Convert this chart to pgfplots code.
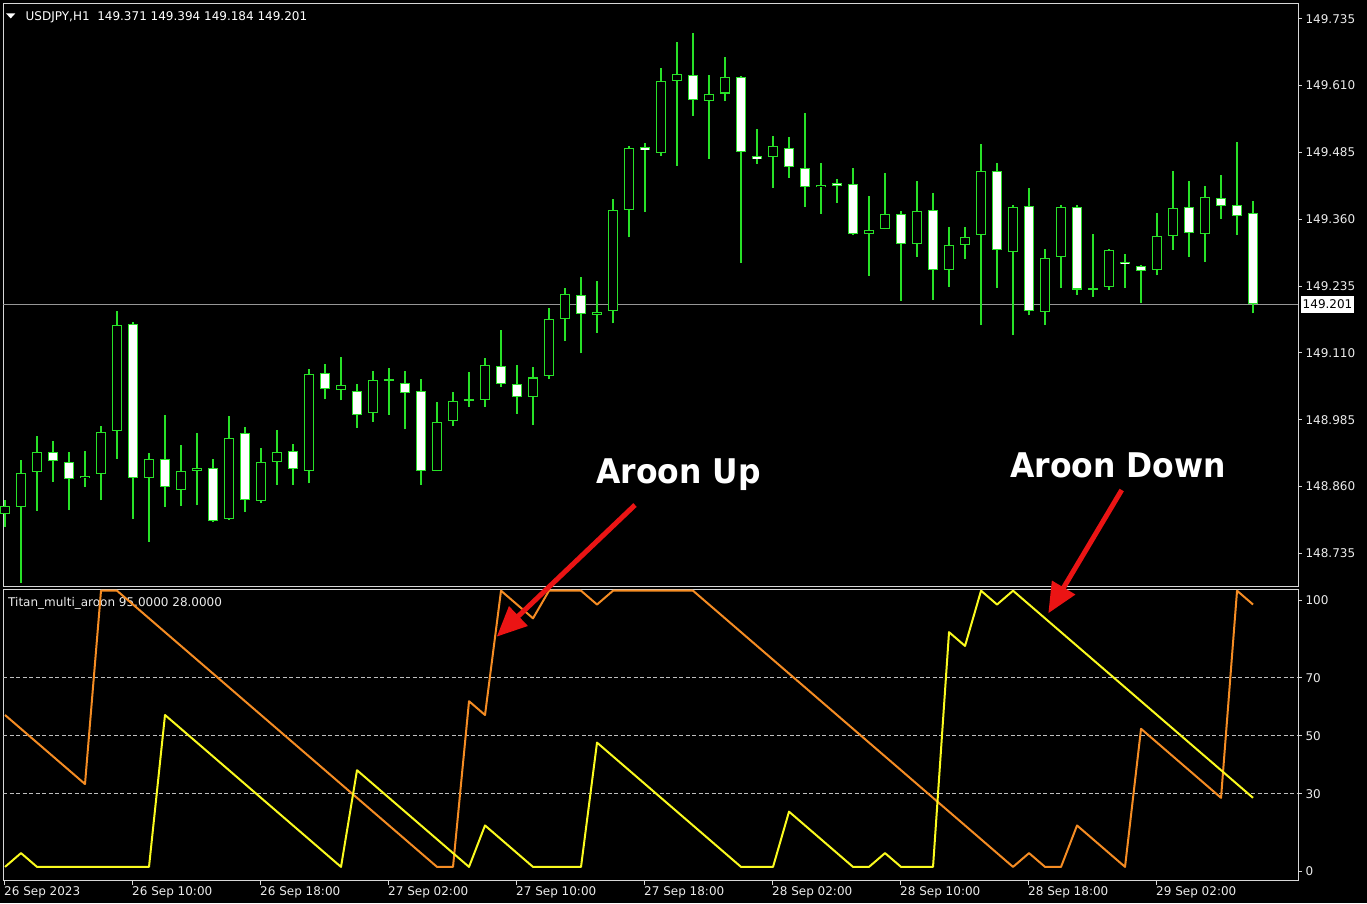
\documentclass[border=0pt]{standalone}
\usepackage{pgfplots}
\pgfplotsset{compat=1.18}
\usepackage{pgfplotstable}
\usepackage{fontspec}
\setmainfont{DejaVu Sans}
\newfontfamily\calloutfont{DejaVu Sans}[FakeStretch=0.925]
\usetikzlibrary{arrows.meta}

\definecolor{candle}{RGB}{40,225,40}
\definecolor{aroonup}{RGB}{245,140,35}
\definecolor{aroondown}{RGB}{250,250,30}
\definecolor{panelframe}{RGB}{215,215,215}
\definecolor{levelline}{RGB}{190,190,190}
\definecolor{bidline}{RGB}{150,150,150}
\definecolor{ticktext}{RGB}{235,235,235}
\definecolor{callout}{RGB}{235,20,20}

% USDJPY H1 bars: index, open, high, low, close
\pgfplotstableread{
k  O        H        L        C
0  148.810  148.835  148.785  148.824
1  148.824  148.910  148.680  148.887
2  148.888  148.955  148.815  148.926
5  148.877  148.927  148.860  148.882
6  148.885  148.973  148.834  148.963
7  148.965  149.189  148.912  149.164
9  148.877  148.922  148.757  148.912
11 148.855  148.938  148.824  148.890
12 148.890  148.960  148.825  148.897
14 148.799  148.992  148.798  148.952
16 148.834  148.933  148.830  148.907
17 148.907  148.966  148.863  148.926
19 148.892  149.079  148.866  149.072
21 149.040  149.102  149.021  149.050
23 148.997  149.077  148.981  149.059
24 149.057  149.081  148.994  149.060
27 148.890  149.019  148.889  148.982
28 148.984  149.036  148.974  149.021
29 149.021  149.074  149.009  149.024
30 149.023  149.100  149.009  149.088
33 149.029  149.084  148.975  149.065
34 149.067  149.193  149.061  149.173
35 149.173  149.231  149.132  149.220
37 149.182  149.244  149.148  149.188
38 149.189  149.397  149.165  149.378
39 149.378  149.496  149.326  149.495
41 149.484  149.642  149.478  149.620
42 149.619  149.691  149.460  149.631
44 149.583  149.630  149.473  149.596
45 149.595  149.664  149.581  149.625
48 149.476  149.516  149.419  149.496
51 149.420  149.465  149.370  149.425
54 149.333  149.403  149.254  149.341
55 149.342  149.447  149.341  149.371
57 149.316  149.431  149.290  149.377
59 149.266  149.346  149.234  149.313
60 149.313  149.345  149.285  149.328
61 149.330  149.501  149.162  149.451
63 149.300  149.386  149.143  149.384
65 149.188  149.305  149.163  149.289
66 149.289  149.386  149.232  149.384
68 149.229  149.332  149.215  149.232
69 149.234  149.304  149.227  149.302
72 149.266  149.372  149.255  149.330
73 149.330  149.451  149.302  149.382
75 149.333  149.423  149.280  149.401
}\bullbars

\pgfplotstableread{
k  O        H        L        C
3  148.926  148.945  148.869  148.909
4  148.908  148.924  148.816  148.875
8  149.164  149.168  148.800  148.877
10 148.912  148.994  148.822  148.859
13 148.896  148.912  148.794  148.796
15 148.961  148.972  148.813  148.836
18 148.927  148.940  148.863  148.894
20 149.072  149.090  149.023  149.043
22 149.039  149.052  148.970  148.993
25 149.055  149.077  148.967  149.036
26 149.038  149.062  148.863  148.890
31 149.087  149.153  149.046  149.053
32 149.053  149.087  148.996  149.029
36 149.218  149.251  149.109  149.183
40 149.496  149.503  149.374  149.489
43 149.631  149.709  149.553  149.584
46 149.627  149.628  149.279  149.487
47 149.479  149.529  149.464  149.473
49 149.494  149.513  149.437  149.458
50 149.457  149.559  149.383  149.421
52 149.428  149.436  149.390  149.423
53 149.425  149.455  149.330  149.333
56 149.370  149.375  149.207  149.315
58 149.378  149.409  149.209  149.266
62 149.451  149.466  149.232  149.302
64 149.384  149.418  149.180  149.188
67 149.384  149.386  149.219  149.229
70 149.281  149.294  149.232  149.276
71 149.272  149.274  149.203  149.264
74 149.382  149.431  149.289  149.334
76 149.401  149.443  149.360  149.386
77 149.386  149.504  149.330  149.366
78 149.371  149.394  149.184  149.201
}\bearbars

% Aroon up / down per bar
\pgfplotstableread{
k  up      down
0  57.14   4.76
1  52.38   9.52
2  47.62   4.76
3  42.86   4.76
4  38.10   4.76
5  33.33   4.76
6  100     4.76
7  100     4.76
8  95.24   4.76
9  90.48   4.76
10 85.71   57.14
11 80.95   52.38
12 76.19   47.62
13 71.43   42.86
14 66.67   38.10
15 61.90   33.33
16 57.14   28.57
17 52.38   23.81
18 47.62   19.05
19 42.86   14.29
20 38.10   9.52
21 33.33   4.76
22 28.57   38.10
23 23.81   33.33
24 19.05   28.57
25 14.29   23.81
26 9.52    19.05
27 4.76    14.29
28 4.76    9.52
29 61.90   4.76
30 57.14   19.05
31 100     14.29
32 95.24   9.52
33 90.48   4.76
34 100     4.76
35 100     4.76
36 100     4.76
37 95.24   47.62
38 100     42.86
39 100     38.10
40 100     33.33
41 100     28.57
42 100     23.81
43 100     19.05
44 95.24   14.29
45 90.48   9.52
46 85.71   4.76
47 80.95   4.76
48 76.19   4.76
49 71.43   23.81
50 66.67   19.05
51 61.90   14.29
52 57.14   9.52
53 52.38   4.76
54 47.62   4.76
55 42.86   9.52
56 38.10   4.76
57 33.33   4.76
58 28.57   4.76
59 23.81   85.71
60 19.05   80.95
61 14.29   100
62 9.52    95.24
63 4.76    100
64 9.52    95.24
65 4.76    90.48
66 4.76    85.71
67 19.05   80.95
68 14.29   76.19
69 9.52    71.43
70 4.76    66.67
71 52.38   61.90
72 47.62   57.14
73 42.86   52.38
74 38.10   47.62
75 33.33   42.86
76 28.57   38.10
77 100     33.33
78 95.24   28.57
}\aroon

\pgfplotsset{
  candle wick/.style={forget plot, draw=none, mark=none,
    error bars/.cd, y dir=plus, y explicit, error mark=none,
    error bar style={draw=candle, line width=1.1pt}},
  candle body/.style 2 args={forget plot, draw=none, mark=none,
    error bars/.cd, y dir=both, y explicit, error mark=none,
    error bar style={draw=#2, line width=#1}},
  panel/.style={scale only axis, width=1295pt,
    xmin=-0.125, xmax=80.8125,
    axis line style={draw=panelframe, line width=1pt},
    tick align=outside, major tick length=4pt,
    tick style={draw=panelframe, line width=0.8pt},
    ytick pos=right,
    yticklabel style={font=\fontsize{12}{14}\selectfont, text=ticktext},
    clip=false},
}

\begin{document}
\begin{tikzpicture}[x=1pt, y=1pt]
\fill[black] (0,0) rectangle (1367,903);
\useasboundingbox (0,0) rectangle (1367,903);

% chart header
\fill[white] (6,889.7) -- (15.4,889.7) -- (10.7,884.6) -- cycle;
\node[anchor=base west, inner sep=0pt, text=white, font=\fontsize{12}{14}\selectfont]
  at (25.5,882.4) {USDJPY,H1\ \ 149.371 149.394 149.184 149.201};
\node[anchor=base west, inner sep=0pt, text=ticktext, font=\fontsize{12}{14}\selectfont]
  at (8,296.8) {Titan\_multi\_aroon 95.0000 28.0000};

% price panel
\begin{axis}[panel, at={(3pt,317pt)}, anchor=south west, height=582pt,
  ymin=148.6741, ymax=149.7624,
  xtick=\empty,
  ytick={148.735,148.860,148.985,149.110,149.235,149.360,149.485,149.610,149.735},
  yticklabels={148.735,148.860,148.985,149.110,149.235,149.360,149.485,149.610,149.735}]
  \addplot [forget plot, bidline, line width=1pt] coordinates {(-0.125,149.201) (80.8125,149.201)};
  % rising bars: hollow bodies
  \addplot [candle wick] table [x=k, y=L, y error expr={\thisrow{H}-\thisrow{L}}] {\bullbars};
  \addplot [candle body={10.6pt}{candle}] table [x=k, y expr={(\thisrow{O}+\thisrow{C})/2},
    y error expr={abs(\thisrow{C}-\thisrow{O})/2}] {\bullbars};
  \addplot [candle body={8.4pt}{black}] table [x=k, y expr={(\thisrow{O}+\thisrow{C})/2},
    y error expr={max(abs(\thisrow{C}-\thisrow{O})/2-0.0019,0)}] {\bullbars};
  % falling bars: white bodies
  \addplot [candle wick] table [x=k, y=L, y error expr={\thisrow{H}-\thisrow{L}}] {\bearbars};
  \addplot [candle body={10.6pt}{candle}] table [x=k, y expr={(\thisrow{O}+\thisrow{C})/2},
    y error expr={abs(\thisrow{C}-\thisrow{O})/2}] {\bearbars};
  \addplot [candle body={8.4pt}{white}] table [x=k, y expr={(\thisrow{O}+\thisrow{C})/2},
    y error expr={max(abs(\thisrow{C}-\thisrow{O})/2-0.0019,0)}] {\bearbars};
  \node[anchor=west, fill=white, text=black, inner sep=1.5pt, minimum height=17pt,
    font=\fontsize{12}{14}\selectfont] at (axis cs:80.8125,149.201) [xshift=3pt] {149.201};
\end{axis}

% Aroon panel
\begin{axis}[panel, at={(3pt,22.3pt)}, anchor=south west, height=291.7pt,
  ymin=0, ymax=100.59,
  xtick pos=left,
  xtick={-0.0625,7.9375,15.9375,23.9375,31.9375,39.9375,47.9375,55.9375,63.9375,71.9375},
  xticklabels={26 Sep 2023,26 Sep 10:00,26 Sep 18:00,27 Sep 02:00,27 Sep 10:00,
    27 Sep 18:00,28 Sep 02:00,28 Sep 10:00,28 Sep 18:00,29 Sep 02:00},
  xticklabel style={anchor=north west, inner sep=0pt, font=\fontsize{12}{14}\selectfont, text=ticktext},
  xticklabel shift=2pt,
  ytick={3.3,30,50,70,96.6}, yticklabels={0,30,50,70,100}]
  \pgfplotsinvokeforeach{30,50,70}{
    \addplot [forget plot, levelline, line width=0.8pt, dash pattern=on 4pt off 2.5pt]
      coordinates {(-0.125,#1) (80.8125,#1)};
  }
  \addplot [forget plot, aroonup, line width=2pt, line join=round] table [x=k, y=up] {\aroon};
  \addplot [forget plot, aroondown, line width=2pt, line join=round] table [x=k, y=down] {\aroon};
\end{axis}

% callouts
\node[anchor=base west, inner sep=0pt, text=white, font=\calloutfont\bfseries\fontsize{34}{40}\selectfont]
  at (596,419.7) {Aroon Up};
\node[anchor=base west, inner sep=0pt, text=white, font=\calloutfont\bfseries\fontsize{34}{40}\selectfont]
  at (1010,425.3) {Aroon Down};
\draw[callout, line width=5pt, -{Triangle[length=30pt, width=26pt]}] (635,398) -- (496.7,266.3);
\draw[callout, line width=5pt, -{Triangle[length=30pt, width=26pt]}] (1121.7,413) -- (1048.3,289.7);
\end{tikzpicture}
\end{document}
